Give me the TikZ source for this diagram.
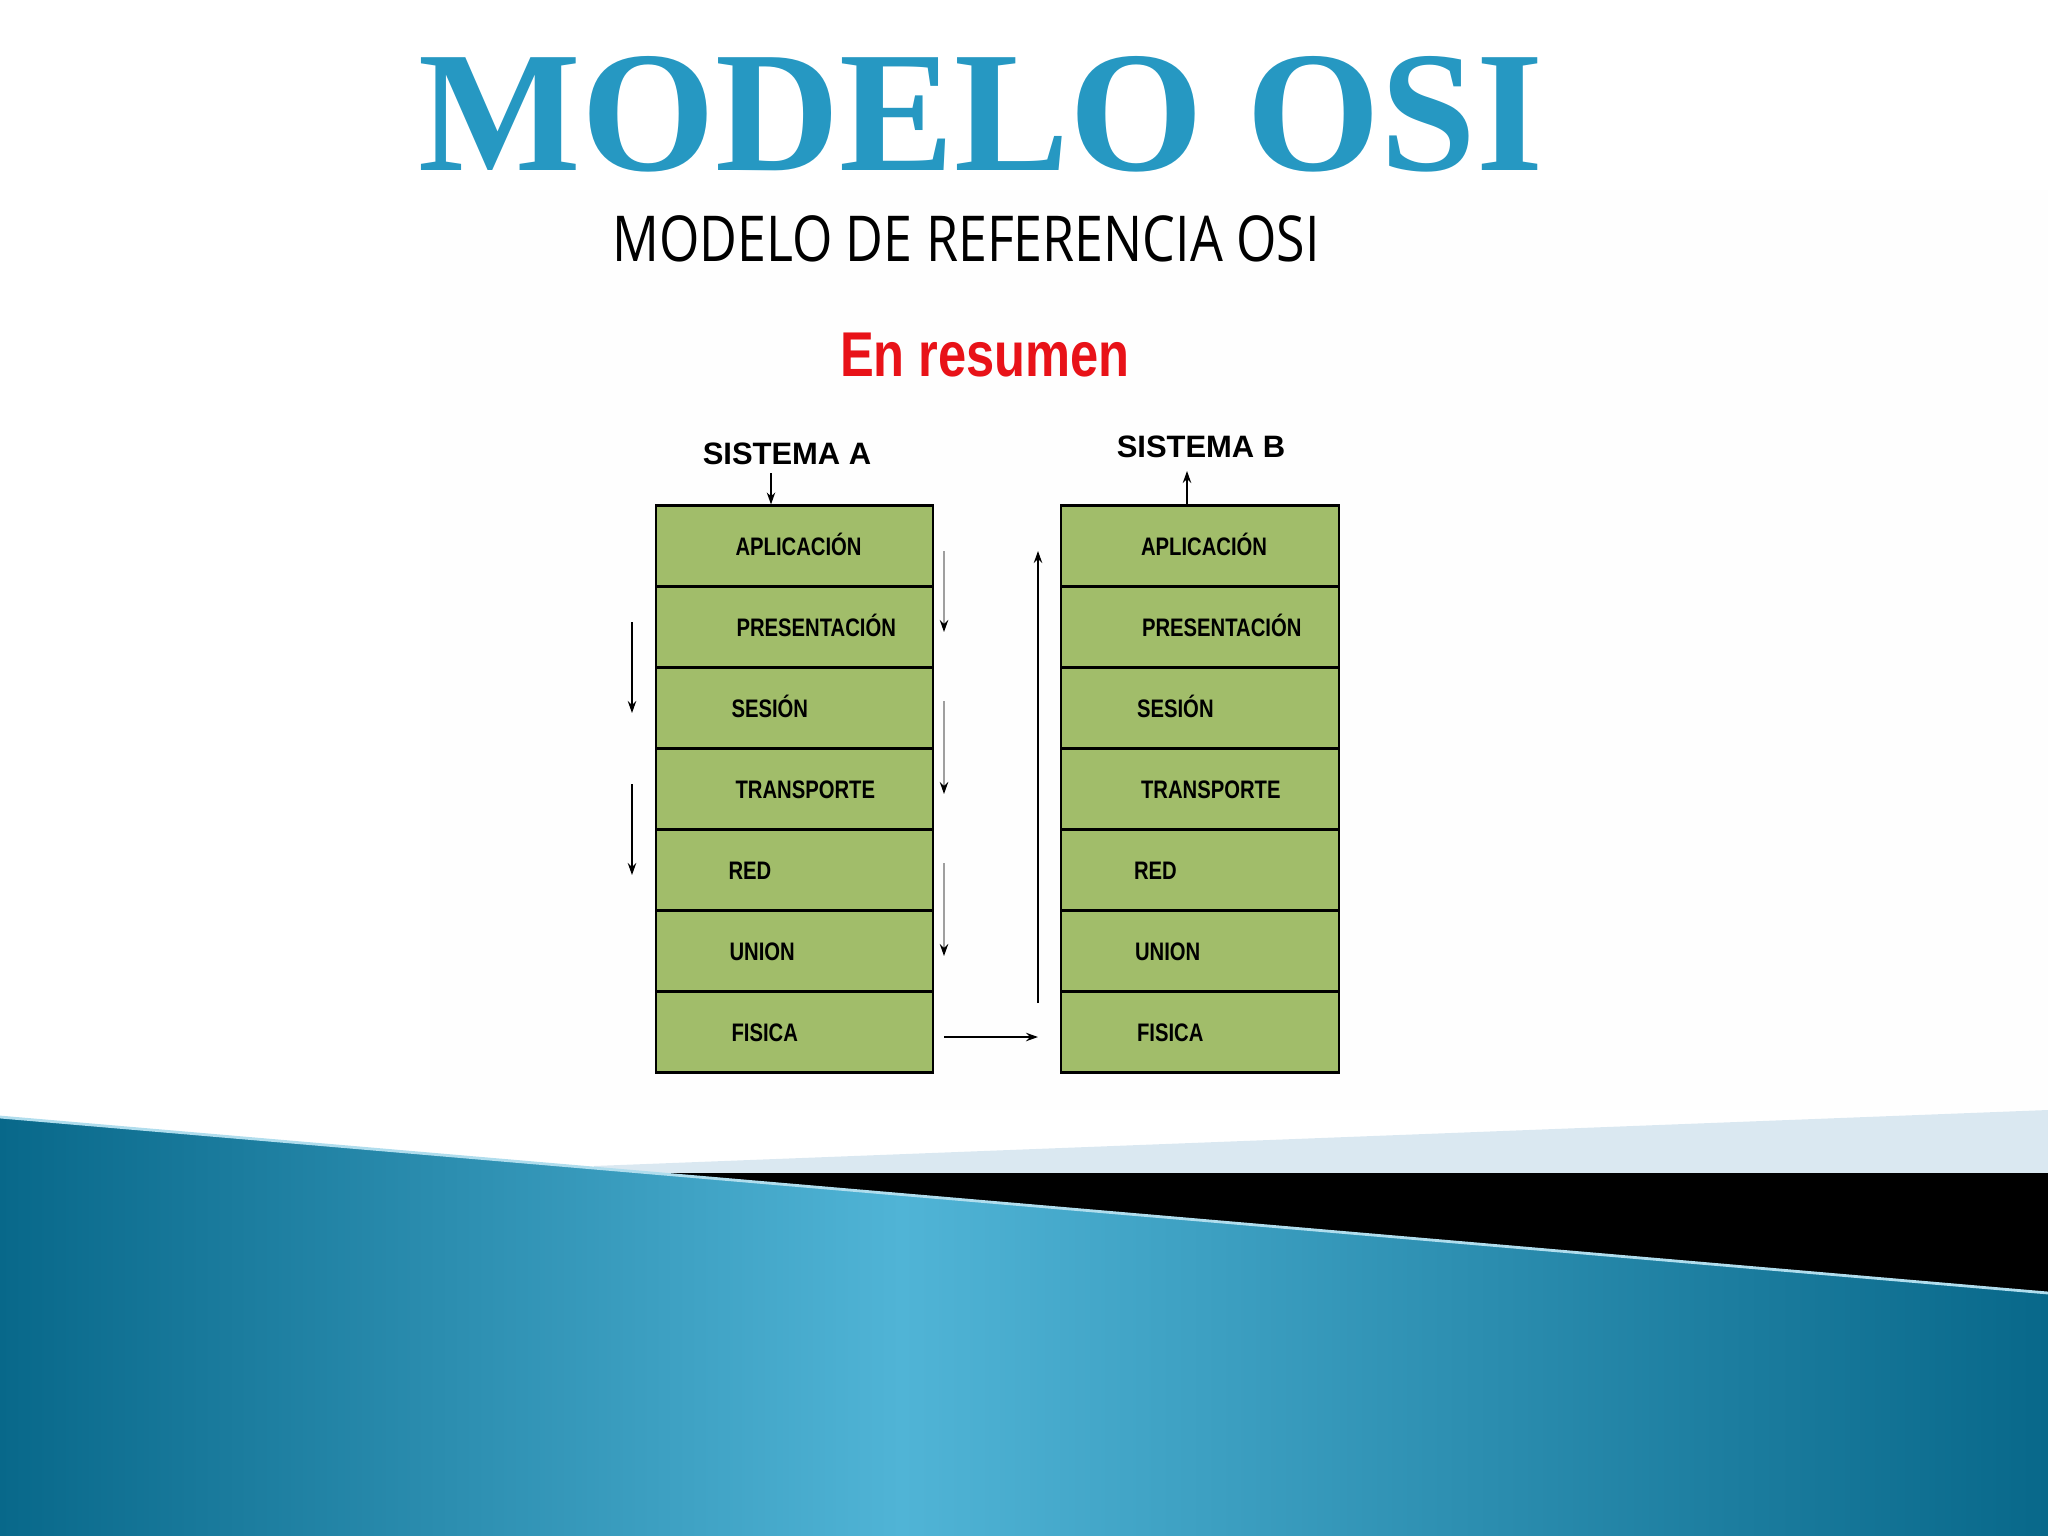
\documentclass[tikz,border=0pt]{standalone}
\usepackage{fontspec}
\setmainfont{Liberation Sans}
\newfontfamily\titulofont{Liberation Serif Bold}
\newfontfamily\subfont[FakeStretch=0.82]{Open Sans}
\newfontfamily\resfont[FakeStretch=0.8]{Liberation Sans Bold}
\newfontfamily\capafont[FakeStretch=0.8]{Liberation Sans Bold}
\usetikzlibrary{arrows.meta}

\definecolor{verde}{RGB}{161,189,106}
\definecolor{azultit}{RGB}{38,152,194}
\definecolor{rojo}{RGB}{232,18,24}
\definecolor{celeste}{RGB}{218,232,241}
\definecolor{tealosc}{RGB}{8,104,138}
\definecolor{tealcla}{RGB}{80,180,214}
\pgfdeclarehorizontalshading{marino}{100bp}{color(0bp)=(tealosc); color(25bp)=(tealosc); color(47bp)=(tealcla); color(75bp)=(tealosc); color(100bp)=(tealosc)}

\begin{document}
\begin{tikzpicture}[x=0.01cm,y=-0.01cm,
    capa/.style={draw=black,line width=0.6pt,fill=verde,minimum width=2.77cm,minimum height=0.81cm,inner sep=0pt},
    etiq/.style={font={\capafont\fontsize{7.2}{8}\selectfont},anchor=base west,inner sep=0pt},
    sist/.style={font={\bfseries\fontsize{8.8}{10}\selectfont},anchor=base,inner sep=0pt},
    flecha/.style={line width=0.45pt,-{Stealth[length=3.4pt,width=2.4pt]}},
    gris/.style={line width=0.45pt,draw=gray!75,-{Stealth[length=3.4pt,width=2.4pt,color=black]}}]

\useasboundingbox (0,0) rectangle (2048,1536);
\fill[gray!1] (430,190) rectangle (2048,1110);

% titulos
\node[anchor=base,inner sep=0pt,text=azultit,font={\titulofont\fontsize{49}{50}\selectfont}] (titulo) at (981,170) {MODELO OSI};
\node[anchor=base,inner sep=0pt,font={\subfont\fontsize{18}{20}\selectfont}] (subtitulo) at (966,261) {MODELO DE REFERENCIA OSI};
\node[anchor=base,inner sep=0pt,text=rojo,font={\resfont\fontsize{18}{20}\selectfont}] (resumen) at (985,376) {En resumen};

\node[sist] (sisA) at (787,464) {SISTEMA A};
\node[sist] (sisB) at (1201,457) {SISTEMA B};

% capas
\foreach \nom/\dx [count=\i] in {APLICACIÓN/80,PRESENTACIÓN/81,SESIÓN/76,TRANSPORTE/80,RED/73,UNION/74,FISICA/76}{
    \node[capa] (a\i) at (794.5,{465+81*\i}) {};
    \node[capa] (b\i) at (1200,{465+81*\i}) {};
    \node[etiq] (ta\i) at ([xshift=\dx*0.01cm,yshift=-0.09cm]a\i.west) {\nom};
    \node[etiq] (tb\i) at ([xshift=\dx*0.01cm,yshift=-0.09cm]b\i.west) {\nom};
}

% flechas
\coordinate (ini) at (771,473);
\coordinate (fin) at (1187,471);
\draw[flecha] (ini) -- (a1.north -| ini);
\draw[flecha] (b1.north -| fin) -- (fin);

\coordinate (l1) at (632,622);
\coordinate (l2) at (632,713);
\coordinate (l3) at (632,784);
\coordinate (l4) at (632,875);
\draw[flecha] (l1) -- (l2);
\draw[flecha] (l3) -- (l4);

\coordinate (r1) at (944,551);
\coordinate (r2) at (944,632);
\coordinate (r3) at (944,701);
\coordinate (r4) at (944,794);
\coordinate (r5) at (944,863);
\coordinate (r6) at (944,956);
\draw[gris] (r1) -- (r2);
\draw[gris] (r3) -- (r4);
\draw[gris] (r5) -- (r6);

\coordinate (s1) at (1038,1003);
\coordinate (s2) at (1038,551);
\draw[flecha] (s1) -- (s2);
\coordinate (h1) at (944,1037);
\draw[flecha] (h1) -- (h1 -| s1);

% fondo inferior
\fill[celeste] (594,1166) -- (2048,1110) -- (2048,1173) -- (594,1173) -- cycle;
\fill[black] (600,1173) rectangle (2048,1300);
\shade[shading=marino] (0,1117) -- (2048,1293) -- (2048,1536) -- (0,1536) -- cycle;
\draw[white!55!tealcla,line width=0.8pt] (0,1117) -- (2048,1293);

\end{tikzpicture}
\end{document}
